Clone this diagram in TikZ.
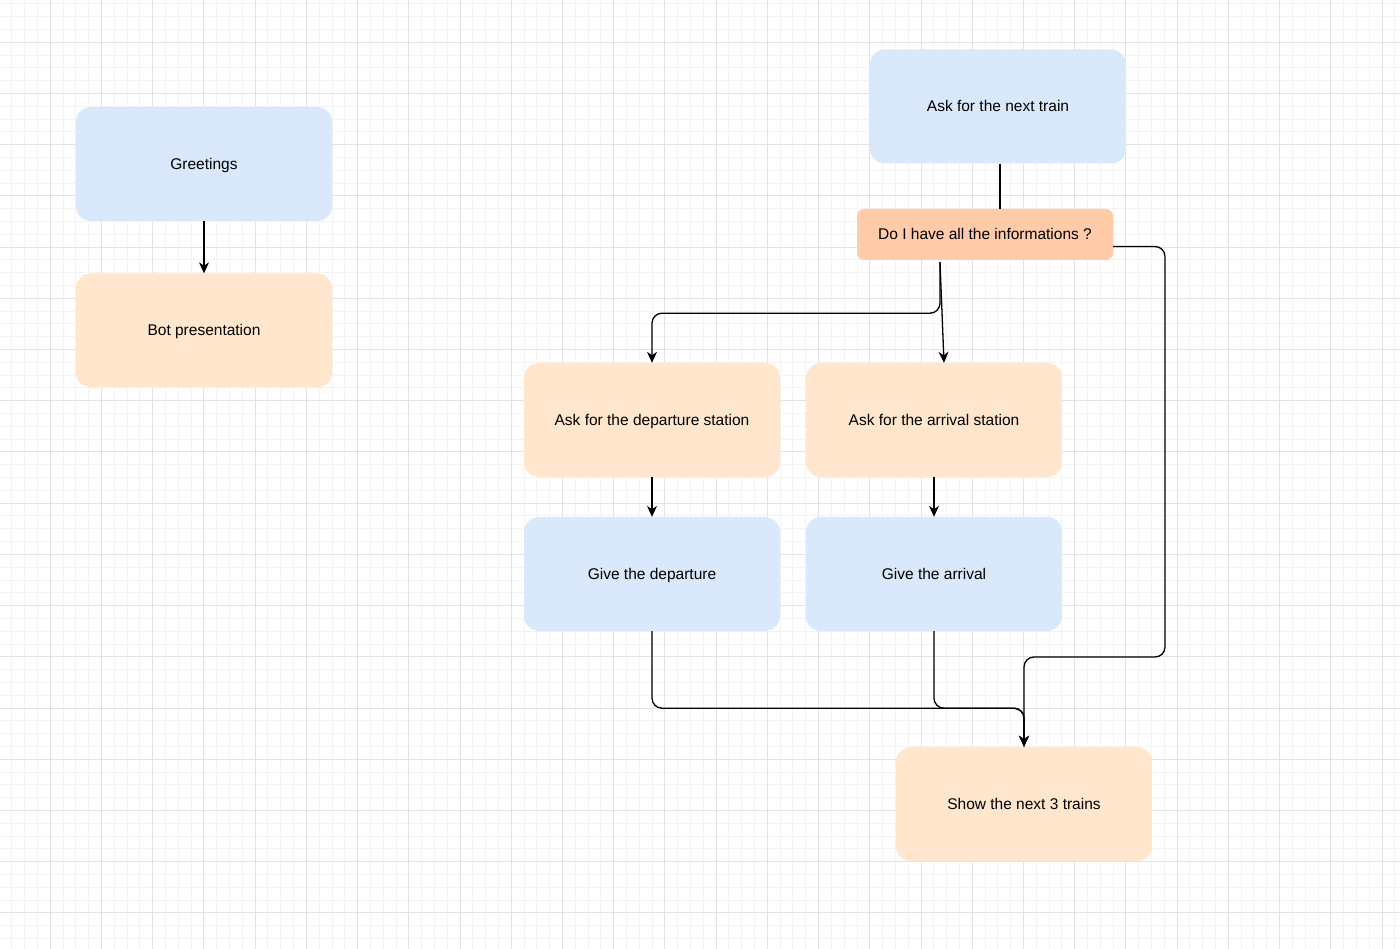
\documentclass[tikz,border=0pt]{standalone}
\usepackage{fontspec}
\setmainfont{Liberation Sans}
\usetikzlibrary{arrows.meta}

\definecolor{boxblue}{HTML}{DAE8FC}
\definecolor{boxpeach}{HTML}{FFE6CC}
\definecolor{boxsalmon}{HTML}{FFCBA9}
\definecolor{gridmajor}{HTML}{E2E2E2}
\definecolor{gridminor}{HTML}{F3F3F3}

\tikzset{
  stepbase/.style={rectangle, rounded corners=15pt, minimum width=256pt,
    minimum height=114pt, inner sep=0pt, text=black, text height=14pt, text depth=3pt,
    font=\fontsize{15.5}{18}\selectfont},
  bluebox/.style={stepbase, fill=boxblue},
  peachbox/.style={stepbase, fill=boxpeach},
  questionbox/.style={stepbase, fill=boxsalmon, minimum height=51pt, rounded corners=7pt},
  link/.style={line width=1.3pt, black},
  flow/.style={link, -{Stealth[length=11pt,width=10pt,inset=3.5pt]}},
}

\begin{document}
\begin{tikzpicture}[x=1pt,y=-1pt]
  \useasboundingbox (0,0) rectangle (1400,949);
  \fill[white] (0,0) rectangle (1400,949);
  % background grid, minor then major lines
  \foreach \i in {-4,...,106}
    \draw[gridminor, line width=1pt] ({50.3+12.805*\i},0) -- ++(0,949);
  \foreach \j in {-4,...,71}
    \draw[gridminor, line width=1pt] (0,{42.2+12.805*\j}) -- ++(1400,0);
  \foreach \i in {-1,...,26}
    \draw[gridmajor, line width=1pt] ({50.3+51.22*\i},0) -- ++(0,949);
  \foreach \j in {-1,...,18}
    \draw[gridmajor, line width=1pt] (0,{42.2+51.22*\j}) -- ++(1400,0);

  % left column
  \node[bluebox] (greet) at (204,164) {Greetings};
  \node[peachbox] (botpres) at (204,330.5) {Bot presentation};

  % right part
  \node[bluebox] (asknext) at (998,106.5) {Ask for the next train};
  \node[questionbox] (check) at (985,234.5) {Do I have all the informations ?};
  \node[peachbox] (askdep) at (652,420) {Ask for the departure station};
  \node[peachbox] (askarr) at (934,420) {Ask for the arrival station};
  \node[bluebox] (givedep) at (652,574) {Give the departure};
  \node[bluebox] (givearr) at (934,574) {Give the arrival};
  \node[peachbox] (shownext) at (1024,804) {Show the next 3 trains};
  \coordinate (rturn) at (1165,657);

  % connectors
  \draw[flow] (greet) -- (botpres);
  \draw[link] ([xshift=2pt]asknext.south) -- ([xshift=15pt]check.north);
  \draw[flow, rounded corners=10pt] ([xshift=-45pt,yshift=-2pt]check.south)
    -- ++(0,51) -| (askdep.north);
  \draw[flow] ([xshift=-45pt,yshift=-2pt]check.south) -- ([xshift=10pt]askarr.north);
  \draw[flow, rounded corners=10pt] ([yshift=-12pt]check.east) -| (rturn) -| (shownext.north);
  \draw[flow] (askdep) -- (givedep);
  \draw[flow] (askarr) -- (givearr);
  \draw[flow, rounded corners=10pt] (givedep.south) -- ++(0,77) -| (shownext.north);
  \draw[flow, rounded corners=10pt] (givearr.south) -- ++(0,77) -| (shownext.north);
\end{tikzpicture}
\end{document}
